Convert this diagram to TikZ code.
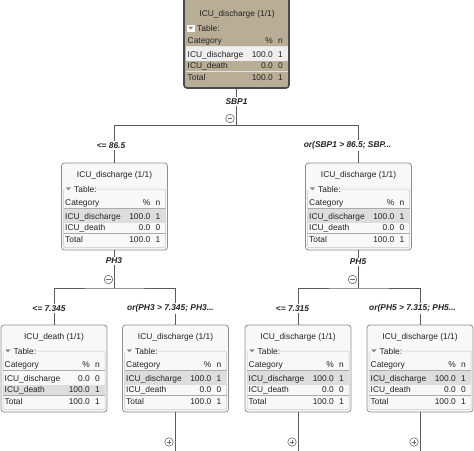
\documentclass[tikz,border=0pt]{standalone}
\usepackage{fontspec}
\setmainfont{Liberation Sans}
\definecolor{txtc}{HTML}{222222}
\definecolor{rootfill}{HTML}{B9AE95}
\definecolor{rootborder}{HTML}{4A4A4A}
\definecolor{roothl}{HTML}{EFEFEF}
\definecolor{rootsep}{HTML}{E2E2E2}
\definecolor{lvfill}{HTML}{F8F8F8}
\definecolor{lvborder}{HTML}{8E8E8E}
\definecolor{lvhl}{HTML}{DDDDDD}
\definecolor{lvsep}{HTML}{ABABAB}
\definecolor{framec}{HTML}{C6C6C6}
\definecolor{connc}{HTML}{5A5A5A}
\definecolor{mkc}{HTML}{6A6A6A}
\definecolor{trigc}{HTML}{8A8A8A}

% rows of a table, drawn in a scope whose origin is the box's top-left corner
\newcommand\tblrows[7]{%
  \ifnum#5=1 \fill[#6] (2,46.3) rectangle (104,59.8);\else\fill[#6] (2,59.8) rectangle (104,70.2);\fi
  \node[txt,anchor=base west] at (3.5,42) {Category};
  \node[txt,anchor=base east] at (89,42) {\%};
  \node[txt,anchor=base east] at (99,42) {n};
  \draw[draw=#7,line width=1.3pt] (2,45.6) -- (104,45.6);
  \node[txt,anchor=base west] at (3.5,56) {ICU\_discharge};
  \node[txt,anchor=base east] at (89,56) {#1};
  \node[txt,anchor=base east] at (99,56) {#2};
  \node[txt,anchor=base west] at (3.5,67.5) {ICU\_death};
  \node[txt,anchor=base east] at (89,67.5) {#3};
  \node[txt,anchor=base east] at (99,67.5) {#4};
  \draw[draw=#7,line width=1.3pt] (2,70.7) -- (104,70.7);
  \node[txt,anchor=base west] at (3.5,79.5) {Total};
  \node[txt,anchor=base east] at (89,79.5) {100.0};
  \node[txt,anchor=base east] at (99,79.5) {1};
}
% level box: name, centre x, top y, title, v1, n1, v2, n2, highlighted row
\newcommand\lvbox[9]{%
  \node[lvb] (#1) at (#2,#3+43.5) {};
  \begin{scope}[shift={({#2-53},#3)}]
    \draw[draw=framec,line width=0.5pt,rounded corners=1.5pt] (2,26) rectangle (104,84.5);
    \fill[lvfill] (2.6,21) rectangle (34,30);
    \node[txt] at (53,12.5) {#4};
    \fill[trigc] (4.3,24.4) -- (9.5,24.4) -- (6.9,27.4) -- cycle;
    \node[txt,anchor=base west] at (12.5,29) {Table:};
    \tblrows{#5}{#6}{#7}{#8}{#9}{lvhl}{lvsep}
  \end{scope}
}

\begin{document}
\begin{tikzpicture}[x=1pt,y=-1pt,
  txt/.style={inner sep=0pt,font=\fontsize{8.4}{10}\selectfont,text=txtc},
  lbl/.style={inner sep=1.5pt,fill=white,font=\fontsize{8.4}{10}\selectfont\bfseries\itshape,text=txtc},
  lvb/.style={draw=lvborder,fill=lvfill,line width=0.8pt,rounded corners=3pt,
    minimum width=106pt,minimum height=87pt,inner sep=0pt},
  rootb/.style={draw=rootborder,fill=rootfill,line width=1.6pt,rounded corners=3pt,
    minimum width=105pt,minimum height=91pt,inner sep=0pt},
  conn/.style={draw=connc,line width=0.8pt},
  mk/.style={circle,draw=mkc,fill=white,line width=0.6pt,minimum size=8.5pt,inner sep=0pt},
  mksign/.style={draw=mkc,line width=0.6pt}]
\useasboundingbox (0,0) rectangle (474,450);

% junctions and free ends
\coordinate (j0) at (236.5,125.5);
\coordinate (j1) at (114.5,288);
\coordinate (j2) at (358.5,288);
\coordinate (e12) at (175.5,452);
\coordinate (e21) at (298,452);
\coordinate (e22) at (420,452);

% boxes
\node[rootb] (root) at (236.5,42.5) {};
\begin{scope}[shift={(184,1)}]
  \node[txt] at (53,13) {ICU\_discharge (1/1)};
  \fill[white] (3,23.5) rectangle (10.5,31);
  \fill[trigc] (4.3,25.6) -- (9.2,25.6) -- (6.75,28.6) -- cycle;
  \node[txt,anchor=base west] at (13,30) {Table:};
  \tblrows{100.0}{1}{0.0}{0}{1}{roothl}{rootsep}
\end{scope}

\lvbox{n1}{114.5}{163}{ICU\_discharge (1/1)}{100.0}{1}{0.0}{0}{1}
\lvbox{n2}{358.5}{163}{ICU\_discharge (1/1)}{100.0}{1}{0.0}{0}{1}
\lvbox{n11}{54}{325}{ICU\_death (1/1)}{0.0}{0}{100.0}{1}{2}
\lvbox{n12}{175.5}{325}{ICU\_discharge (1/1)}{100.0}{1}{0.0}{0}{1}
\lvbox{n21}{298}{325}{ICU\_discharge (1/1)}{100.0}{1}{0.0}{0}{1}
\lvbox{n22}{420}{325}{ICU\_discharge (1/1)}{100.0}{1}{0.0}{0}{1}

% connectors
\draw[conn] (root.south) -- (j0);
\draw[conn] (n1.north) |- (j0) -| (n2.north);
\draw[conn] (n1.south) -- (j1);
\draw[conn] (n11.north) |- (j1) -| (n12.north);
\draw[conn] (n2.south) -- (j2);
\draw[conn] (n21.north) |- (j2) -| (n22.north);
\draw[conn] (n12.south) -- (e12);
\draw[conn] (n21.south) -- (e21);
\draw[conn] (n22.south) -- (e22);

% split labels
\node[lbl] (s0) at (236.5,101.5) {SBP1};
\node[lbl] (s1) at (114,261) {PH3};
\node[lbl] (s2) at (358,262) {PH5};
\node[lbl] (b1) at (111,145.5) {<= 86.5};
\node[lbl] (b2) at (347.5,145.5) {or(SBP1 > 86.5; SBP...};
\node[lbl] (b11) at (49,308.5) {<= 7.345};
\node[lbl] (b12) at (170.5,308.5) {or(PH3 > 7.345; PH3...};
\node[lbl] (b21) at (292.5,308.5) {<= 7.315};
\node[lbl] (b22) at (412.5,308.5) {or(PH5 > 7.315; PH5...};

% collapse / expand markers
\node[mk] (c0) at (230,118.5) {};
\node[mk] (c1) at (108.5,279.5) {};
\node[mk] (c2) at (352.5,279.5) {};
\node[mk] (p12) at (169,442) {};
\node[mk] (p21) at (292,442) {};
\node[mk] (p22) at (414,442) {};
\foreach \m in {c0,c1,c2,p12,p21,p22}
  \draw[mksign] ([xshift=-2.4pt]\m.center) -- ([xshift=2.4pt]\m.center);
\foreach \m in {p12,p21,p22}
  \draw[mksign] ([yshift=-2.4pt]\m.center) -- ([yshift=2.4pt]\m.center);
\end{tikzpicture}
\end{document}
